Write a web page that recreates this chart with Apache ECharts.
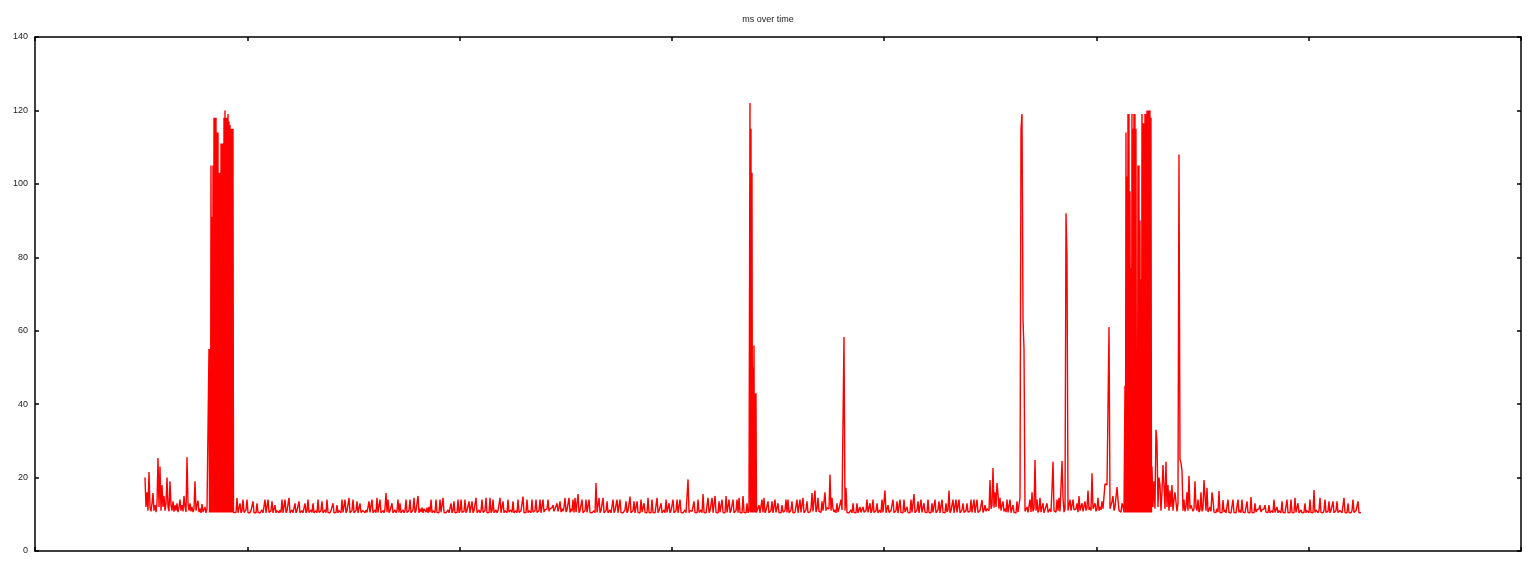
<!DOCTYPE html>
<html>
<head>
<meta charset="utf-8">
<script src="https://cdn.jsdelivr.net/npm/echarts@6/dist/echarts.min.js"></script>
<style>html,body{margin:0;padding:0;background:#fff}#chart{width:1536px;height:576px}</style>
</head>
<body>
<div id="chart"></div>
<script>
// Title and tick labels
const chartTitle = 'ms over time';
const yTicks = [0, 20, 40, 60, 80, 100, 120, 140];
const xTicks = [0, 1, 2, 3, 4, 5, 6, 7];

// sample intervals (time units; 1 axis unit = one tick interval)
const step = 0.004711;
const stepBurst = 0.0023553;

// Segment A: start of the run
const segAStart = 0.51815;
const segA = [
20,12,16,11,21.5,12,10.8,13,15.8,11,12.5,10.6,13,25.3,12,23,11,18,12,15,
11,13,20,12,10.8,19,12.5,11,13.5,10.7,12.5,11,13,10.6,12,14,11,12.5,10.8,15,
12,10.6,25.5,13,11,13,10.8,12,10.6,11.5,19,11,12.5,13.7,10.6,11.5,10.4,12.8,10.6,11,
12,10.4,11.5,12];

// Segment B: first burst (dense sampling)
const segBStart = 0.81963;
const segB = [55,10.5,55,10.5,105,10.5,91,10.5,105,10.5,118,10.5,118,10.5,118,10.5,114,10.5,114,10.5,
103,10.5,103,10.5,111,10.5,111,10.5,111,10.5,118,10.5,120,10.5,118,10.5,118,10.5,119,10.5,
117,10.5,116,10.5,115,10.5,115,10.5,115,10.5];

// Segment C: quiet period
const segCStart = 0.93740;
const segC = [
10.4,11,10.5,14.4,10.4,10.8,13,10.4,11,14,10.5,10.4,11.2,14,10.4,10.7,10.4,11,10.5,13.5,
10.4,10.8,10.4,13,10.5,11,10.4,10.7,11.2,10.4,10.6,14,10.4,10.8,14,10.5,10.4,11,13.5,10.4,
10.7,12.5,10.4,11,10.5,10.4,11.2,10.5,14,10.4,10.8,14,10.4,11,10.5,14.5,10.4,10.8,11.2,10.4,
10.6,13,10.4,11,10.5,13.5,10.4,10.8,11,10.4,10.7,13,10.4,11,14,10.5,10.4,11.2,10.5,13,
10.4,10.8,11,10.4,14,10.5,10.4,11,13.5,10.4,10.7,11.2,10.4,14,10.5,10.8,10.4,11,10.5,13,
10.4,10.8,10.5,12.5,10.4,11,10.6,10.4,14,10.5,10.8,14,10.4,11,10.5,14.5,10.4,10.8,11,14,
10.4,10.7,11,13.5,10.4,10.8,13,10.5,10.4,11,10.6,10.4,11.2,10.5,10.4,13.5,10.5,11,14,10.4,
10.8,11.2,10.4,14.5,10.5,11,14,10.4,10.8,11,10.4,11.5,15.8,10.6,14,10.4,11,10.5,13,10.4,
10.8,11.2,10.4,11,14,10.5,13,10.4,10.8,11.2,10.4,11,14,10.5,10.4,11,14,10.4,10.8,11.2,
14.5,10.4,11,10.5,15,10.4,11.5,10.6,11.8,10.4,11.5,12,10.6,11.8,10.4,12,10.6,14,10.4,11,
10.8,10.4,14,10.5,11,10.4,14,10.6,10.4,14.5,10.5,11,10.4,10.8,11.2,10.4,10.7,13,10.4,11,
13.5,10.4,10.8,10.5,14,10.4,11,14,10.5,10.4,10.8,14,10.4,11,10.5,13.5,10.4,10.8,13.5,10.4,
11,10.5,14.5,10.4,10.8,11.2,10.4,11,14,10.5,10.4,11,14.5,10.4,10.8,10.5,14.5,10.4,11,14,
10.4,10.8,11.2,10.4,11,10.5,14.5,10.4,10.8,13.5,10.4,11,10.5,10.4,14,10.6,10.4,11.2,10.5,13.5,
10.4,10.8,11,10.4,14,10.5,10.4,11,10.6,14.8,10.4,10.8,10.5,14,10.4,11,10.5,10.4,14,10.6,
10.4,11,14,10.5,10.4,11,14,10.4,10.8,14,10.6,11.2,10.8,11.5,14,10.8,11.5,11,11.8,12.5,
10.8,11.5,11,13,10.8,11.8,13.5,10.6,11.5,10.8,12,14.5,10.6,11.2,10.8,14.5,10.5,11.5,10.8,14,
10.5,14.5,10.6,11,15.5,10.4,11,10.6,14,10.4,10.8,11,14,10.5,10.4,14,10.5,11,10.4,10.8,
11,10.4,18.5,10.5,10.8,14.5,10.4,11,10.5,14.5,10.4,10.8,11,13.5,10.4,10.8,11.2,10.4,10.6,14,
10.4,11,10.5,14,10.4,10.8,14,10.5,11,10.4,10.8,11.2,13.5,10.4,11,10.5,14.8,10.4,10.8,11,
13.5,10.4,10.8,13.5,10.5,11,10.4,14,10.6,10.4,13,10.5,11,10.4,14.5,10.5,10.8,10.4,14,10.5,
11,10.4,10.8,14.5,10.4,11,10.5,13,10.4,10.8,11.2,10.4,14,10.5,10.8,13,10.4,11,10.5,14,
10.4,10.8,11,14,10.4,10.6,14,10.5,11,10.4,10.8,11.2,10.4,10.6,19.5,10.4,11,10.5,10.8,10.4,
13.5,10.5,11,10.4,14,10.5,10.8,11.2,10.4,15.5,10.5,11,10.4,10.8,14.5,10.4,11,10.5,14.5,10.4,
10.8,15,10.5,11,10.4,13.5,10.6,10.4,14,10.5,11,10.4,15,10.5,10.8,14,10.4,11,10.5,14,
10.4,10.8,11,14,10.4,14.5,10.5,11,10.4,15,10.5,10.8,10.4,13];

// Segment D: single burst (dense sampling)
const segDStart = 3.35862;
const segD = [10.4,10.5,11,10.5,122,10.5,115,10.5,103,10.5,50,10.5,56,10.5,43,10.5,43,10.5];

// Segment E
const segEStart = 3.40101;
const segE = [
10.5,10.4,12.5,10.4,10.8,14,10.5,14.5,10.4,11,10.5,13.5,10.4,10.8,11,13.5,10.4,10.8,14,10.5,
10.4,13,10.5,11,10.4,12.5,10.6,10.4,11,14,10.5,14,10.4,10.8,11.2,13.5,10.4,10.8,10.5,11,
14,10.4,10.8,14,10.5,11,14.5,10.4,10.8,11.2,13.5,10.5,11,10.6,11.5,15.8,10.8,11.2,16.5,10.6,
11.5,14.5,10.8,11,10.5,13.5,11,11.5,16,11,11.8,12,11.5,20.8,11,14.5,11.5,10.6,11.2,10.4,
13,10.6,11.5,11,14,11.2,10.8,58.3,11,17.2,10.5,11,10.4,10.8,11.2,10.4,13,10.5,10.8,10.4,
13,10.4,10.8,12,10.5,10.4,12,10.6,10.4,11,14,10.5,10.8,13,10.4,11,14,10.5,10.4,11,
13,10.4,10.8,11.2,10.4,14,10.5,11,16.5,10.4,10.8,12.5,10.5,10.4,11,10.6,14,10.4,10.8,11,
13.5,10.4,10.8,14,10.5,11,10.4,14,10.6,10.4,12,10.5,10.8,10.4,14,10.5,11,15.5,10.4,10.8,
11.2,13.5,10.4,10.8,14,10.5,10.4,13,10.6,11,10.4,14,10.5,10.8,10.4,13,10.5,11,14,10.4,
10.8,11.2,13.5,10.4,10.8,14,10.5,11,10.4,13,10.6,11.2,16.5,10.4,11,10.5,14,10.4,10.8,14,
10.5,11,14,10.4,10.8,11.2,13,10.5,10.4,11,13,10.6,10.4,10.8,14,10.5,11,14,10.4,10.8,
14,10.5,10.4,11,10.6,13.9,10.5,11.2,12.5,10.8,11.5,12,11,19.3,11.5,12.5,22.6,11.8,16,12,
18.5,15.5,11.5,14.5,11,12.5,13.5,10.8,11.5,10.6,14,10.5,11,14,10.4,10.8,12.5,10.5,11,10.4,
13.5,10.6,11,14.5,115,119,63,55,10.8,11.2,12,10.5,11,14,10.6,16,10.8,11.5,24.8,11,
14,10.5,11.2,14.5,10.6,11,13,10.4,11.2,10.8,13,10.5,11,11.5,10.6,17,24.3,11,11.5,10.6,
14,11,14.5,10.8,11.2,24.5,14.5,10.6,11.5,92,80,11,10.8,14,11,10.6,14,11.2,10.8,11.5,
13,10.6,15,11,11.5,13,10.8,11.2,13.5,11,11.8,16.5,11.2,12,11,21.2,11.5,12,13,10.8,
11.5,14.5,11,12,11.2,13.5,11.5,12,18.3,18,18,18,61,11.5,12,13.5,15,11,12,11.5,
17.4,14,11,11.5,10.6,13,12];

// Segment F: second burst (dense sampling)
const segFStart = 5.12977;
const segF = [10.5,10.5,45,10.5,114,10.5,102,10.5,119,10.5,119,10.5,98,10.5,77,10.5,119,10.5,115,10.5,
119,10.5,119,10.5,115,10.5,55,10.5,105,10.5,105,10.5,90,10.5,74,10.5,119,10.5,116.5,10.5,
116.5,10.5,119,10.5,119,10.5,120,10.5,120,10.5,120,10.5,120,10.5,118,10.5];

// Segment G: tail
const segGStart = 5.26168;
const segG = [
23,12,19,11.5,33,29.7,12,20,18,11,16,23.4,18,11.5,24.3,12,18,11,16.5,12,
18,11,14,16,16,10.8,13,108,25,24,22,11,14,10.8,12,16,11,20.5,11.5,12.5,
13,10.8,11.5,19,12,11,14,10.6,11.2,16,10.8,11.5,19.3,15,11,17.2,10.6,11.2,12,10.8,
16,14,10.6,11,10.5,11.5,10.6,16.3,10.5,11,10.4,13.9,10.6,11.2,10.4,10.8,14,10.5,11,10.4,
10.8,14,10.5,11,10.4,10.8,14,10.5,11.2,10.4,14,10.6,11,10.4,10.8,13.5,10.5,11,10.4,14.7,
10.5,11,10.4,13,10.6,11.2,10.8,11.5,12.5,10.6,11.2,10.8,11.5,12.5,10.6,11,10.5,12.5,10.4,10.8,
11,10.4,14,10.5,10.8,12,10.4,11,10.6,10.4,13.5,10.5,11,10.4,10.8,14,10.5,11,10.4,14,
10.5,10.8,10.4,14.5,10.5,11,13,10.4,10.8,11.2,10.4,10.8,10.5,13,10.4,11,10.6,10.4,14,10.5,
11,10.4,16.6,10.5,11.2,10.8,10.4,11,14.5,10.5,10.8,10.4,11,14,10.5,10.4,10.8,13.5,10.4,11,
10.5,13.5,10.4,10.8,11,13.5,10.5,10.4,11,10.6,10.4,10.8,14.5,10.5,11,10.4,13,10.5,10.8,10.4,
11,14,10.5,10.4,11,10.6,13.5,10.4,10.8,10.5];

const segments = [
  [segAStart, step, segA],
  [segBStart, stepBurst, segB],
  [segCStart, step, segC],
  [segDStart, stepBurst, segD],
  [segEStart, step, segE],
  [segFStart, stepBurst, segF],
  [segGStart, step, segG]
];
const points = [];
segments.forEach(([t0, dt, vals]) => {
  vals.forEach((v, i) => points.push([t0 + i * dt, v]));
});

const chart = echarts.init(document.getElementById('chart'));
const axisLine = { show: true, onZero: false, lineStyle: { color: '#000', width: 1.5 } };
const tickIn = { show: true, inside: true, length: 4, lineStyle: { color: '#000', width: 1.5 } };
chart.setOption({
  animation: false,
  backgroundColor: '#fff',
  title: {
    text: chartTitle, left: 'center', top: 10,
    textStyle: { fontSize: 9, fontWeight: 'normal', color: '#222', fontFamily: 'Liberation Sans' }
  },
  grid: { left: 35, right: 15, top: 37, bottom: 25, containLabel: false },
  xAxis: [
    { type: 'value', min: xTicks[0], max: xTicks[xTicks.length - 1], interval: 1, position: 'bottom',
      axisLine, axisTick: tickIn, axisLabel: { show: false }, splitLine: { show: false } },
    { type: 'value', min: xTicks[0], max: xTicks[xTicks.length - 1], interval: 1, position: 'top',
      axisLine, axisTick: tickIn, axisLabel: { show: false }, splitLine: { show: false } }
  ],
  yAxis: [
    { type: 'value', min: yTicks[0], max: yTicks[yTicks.length - 1], interval: 20, position: 'left',
      axisLine, axisTick: tickIn, splitLine: { show: false },
      axisLabel: { show: true, fontSize: 9, color: '#222', margin: 7, fontFamily: 'Liberation Sans' } },
    { type: 'value', min: yTicks[0], max: yTicks[yTicks.length - 1], interval: 20, position: 'right',
      axisLine, axisTick: tickIn, splitLine: { show: false }, axisLabel: { show: false } }
  ],
  series: [{
    type: 'line', xAxisIndex: 0, yAxisIndex: 0, data: points,
    showSymbol: false, symbol: 'none',
    lineStyle: { color: '#ff0000', width: 1.4 }
  }]
});
</script>
</body>
</html>
